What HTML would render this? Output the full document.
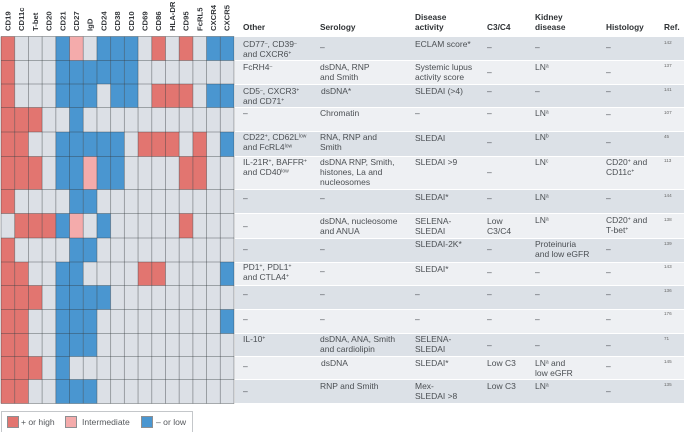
<!DOCTYPE html>
<html><head><meta charset="utf-8">
<style>
html,body{margin:0;padding:0;background:#fff}
#page{position:relative;width:685px;height:432px;overflow:hidden;font-family:"Liberation Sans",sans-serif;font-size:8.5px;color:#4b4f53}
.band{position:absolute;left:235px;width:449px}
.c{position:absolute;line-height:9.8px;white-space:nowrap}
.h{position:absolute;line-height:10px;font-weight:bold;color:#2f3235;font-size:8.3px;white-space:nowrap}
.r{position:absolute;left:664px;font-size:4.6px;line-height:6px;color:#666}
sup{font-size:5px;line-height:0;vertical-align:2.6px}
#legend{position:absolute;left:1px;top:411px;width:190px;height:20px;border:1px solid #c4c7ca;box-sizing:content-box}
.sw{position:absolute;top:4px;width:10px;height:10px;border:1px solid #8d8f92;box-sizing:content-box}
.lt{position:absolute;top:5px;line-height:10px;white-space:nowrap;font-size:8.6px;color:#55585c}
svg{position:absolute;left:0;top:0}
</style></head>
<body>
<div id="page">

<div class="band" style="top:37px;height:23px;background:#dce1e7"></div>
<div class="band" style="top:61px;height:23px;background:#eef0f3"></div>
<div class="band" style="top:85px;height:22px;background:#dce1e7"></div>
<div class="band" style="top:108px;height:23px;background:#eef0f3"></div>
<div class="band" style="top:132px;height:24px;background:#dce1e7"></div>
<div class="band" style="top:157px;height:32px;background:#eef0f3"></div>
<div class="band" style="top:190px;height:23px;background:#dce1e7"></div>
<div class="band" style="top:214px;height:24px;background:#eef0f3"></div>
<div class="band" style="top:239px;height:23px;background:#dce1e7"></div>
<div class="band" style="top:263px;height:22px;background:#eef0f3"></div>
<div class="band" style="top:286px;height:23px;background:#dce1e7"></div>
<div class="band" style="top:310px;height:23px;background:#eef0f3"></div>
<div class="band" style="top:334px;height:22px;background:#dce1e7"></div>
<div class="band" style="top:357px;height:22px;background:#eef0f3"></div>
<div class="band" style="top:380px;height:23px;background:#dce1e7"></div>

<div class="h" style="left:243px;top:22px">Other</div>
<div class="h" style="left:320px;top:22px">Serology</div>
<div class="h" style="left:415px;top:12px">Disease<br>activity</div>
<div class="h" style="left:487px;top:22px">C3/C4</div>
<div class="h" style="left:535px;top:12px">Kidney<br>disease</div>
<div class="h" style="left:606px;top:22px">Histology</div>
<div class="h" style="left:664px;top:22px">Ref.</div>

<!-- row 1 -->
<div class="c" style="left:243px;top:40px">CD77<sup>–</sup>, CD39<sup>–</sup><br>and CXCR6<sup>+</sup></div>
<div class="c" style="left:320px;top:43px">–</div>
<div class="c" style="left:415px;top:40px">ECLAM score*</div>
<div class="c" style="left:487px;top:43px">–</div>
<div class="c" style="left:535px;top:43px">–</div>
<div class="c" style="left:606px;top:43px">–</div>
<div class="r" style="top:40px">142</div>
<!-- row 2 -->
<div class="c" style="left:243px;top:63px">FcRH4<sup>–</sup></div>
<div class="c" style="left:320px;top:63px">dsDNA, RNP<br>and Smith</div>
<div class="c" style="left:415px;top:63px">Systemic lupus<br>activity score</div>
<div class="c" style="left:487px;top:68px">–</div>
<div class="c" style="left:535px;top:63px">LN<sup>a</sup></div>
<div class="c" style="left:606px;top:68px">–</div>
<div class="r" style="top:63px">137</div>
<!-- row 3 -->
<div class="c" style="left:243px;top:87px">CD5<sup>–</sup>, CXCR3<sup>+</sup><br>and CD71<sup>+</sup></div>
<div class="c" style="left:321px;top:87px">dsDNA*</div>
<div class="c" style="left:415px;top:87px">SLEDAI (&gt;4)</div>
<div class="c" style="left:487px;top:87px">–</div>
<div class="c" style="left:535px;top:87px">–</div>
<div class="c" style="left:606px;top:87px">–</div>
<div class="r" style="top:87px">141</div>
<!-- row 4 -->
<div class="c" style="left:243px;top:109px">–</div>
<div class="c" style="left:320px;top:109px">Chromatin</div>
<div class="c" style="left:415px;top:109px">–</div>
<div class="c" style="left:487px;top:109px">–</div>
<div class="c" style="left:535px;top:109px">LN<sup>a</sup></div>
<div class="c" style="left:606px;top:110px">–</div>
<div class="r" style="top:110px">107</div>
<!-- row 5 -->
<div class="c" style="left:243px;top:133px">CD22<sup>+</sup>, CD62L<sup>low</sup><br>and FcRL4<sup>low</sup></div>
<div class="c" style="left:320px;top:133px">RNA, RNP and<br>Smith</div>
<div class="c" style="left:415px;top:134px">SLEDAI</div>
<div class="c" style="left:487px;top:138px">–</div>
<div class="c" style="left:535px;top:133px">LN<sup>b</sup></div>
<div class="c" style="left:606px;top:138px">–</div>
<div class="r" style="top:134px">45</div>
<!-- row 6 -->
<div class="c" style="left:243px;top:158px">IL-21R<sup>+</sup>, BAFFR<sup>+</sup><br>and CD40<sup>low</sup></div>
<div class="c" style="left:320px;top:158px">dsDNA RNP, Smith,<br>histones, La and<br>nucleosomes</div>
<div class="c" style="left:415px;top:158px">SLEDAI &gt;9</div>
<div class="c" style="left:487px;top:168px">–</div>
<div class="c" style="left:535px;top:158px">LN<sup>c</sup></div>
<div class="c" style="left:606px;top:158px">CD20<sup>+</sup> and<br>CD11c<sup>+</sup></div>
<div class="r" style="top:158px">113</div>
<!-- row 7 -->
<div class="c" style="left:243px;top:194px">–</div>
<div class="c" style="left:320px;top:194px">–</div>
<div class="c" style="left:415px;top:193px">SLEDAI*</div>
<div class="c" style="left:487px;top:194px">–</div>
<div class="c" style="left:535px;top:193px">LN<sup>a</sup></div>
<div class="c" style="left:606px;top:194px">–</div>
<div class="r" style="top:193px">144</div>
<!-- row 8 -->
<div class="c" style="left:243px;top:222px">–</div>
<div class="c" style="left:320px;top:217px">dsDNA, nucleosome<br>and ANUA</div>
<div class="c" style="left:415px;top:217px">SELENA-<br>SLEDAI</div>
<div class="c" style="left:487px;top:217px">Low<br>C3/C4</div>
<div class="c" style="left:535px;top:216px">LN<sup>a</sup></div>
<div class="c" style="left:606px;top:216px">CD20<sup>+</sup> and<br>T-bet<sup>+</sup></div>
<div class="r" style="top:217px">138</div>
<!-- row 9 -->
<div class="c" style="left:243px;top:245px">–</div>
<div class="c" style="left:320px;top:245px">–</div>
<div class="c" style="left:415px;top:240px">SLEDAI-2K*</div>
<div class="c" style="left:487px;top:245px">–</div>
<div class="c" style="left:535px;top:240px">Proteinuria<br>and low eGFR</div>
<div class="c" style="left:606px;top:245px">–</div>
<div class="r" style="top:241px">139</div>
<!-- row 10 -->
<div class="c" style="left:243px;top:263px">PD1<sup>+</sup>, PDL1<sup>+</sup><br>and CTLA4<sup>+</sup></div>
<div class="c" style="left:320px;top:267px">–</div>
<div class="c" style="left:415px;top:265px">SLEDAI*</div>
<div class="c" style="left:487px;top:268px">–</div>
<div class="c" style="left:535px;top:268px">–</div>
<div class="c" style="left:606px;top:268px">–</div>
<div class="r" style="top:264px">143</div>
<!-- row 11 -->
<div class="c" style="left:243px;top:290px">–</div>
<div class="c" style="left:320px;top:290px">–</div>
<div class="c" style="left:415px;top:290px">–</div>
<div class="c" style="left:487px;top:290px">–</div>
<div class="c" style="left:535px;top:290px">–</div>
<div class="c" style="left:606px;top:290px">–</div>
<div class="r" style="top:288px">136</div>
<!-- row 12 -->
<div class="c" style="left:243px;top:315px">–</div>
<div class="c" style="left:320px;top:315px">–</div>
<div class="c" style="left:415px;top:315px">–</div>
<div class="c" style="left:487px;top:315px">–</div>
<div class="c" style="left:535px;top:315px">–</div>
<div class="c" style="left:606px;top:315px">–</div>
<div class="r" style="top:311px">176</div>
<!-- row 13 -->
<div class="c" style="left:243px;top:335px">IL-10<sup>+</sup></div>
<div class="c" style="left:320px;top:335px">dsDNA, ANA, Smith<br>and cardiolipin</div>
<div class="c" style="left:415px;top:335px">SELENA-<br>SLEDAI</div>
<div class="c" style="left:487px;top:341px">–</div>
<div class="c" style="left:535px;top:341px">–</div>
<div class="c" style="left:606px;top:341px">–</div>
<div class="r" style="top:336px">71</div>
<!-- row 14 -->
<div class="c" style="left:243px;top:362px">–</div>
<div class="c" style="left:321px;top:359px">dsDNA</div>
<div class="c" style="left:415px;top:359px">SLEDAI*</div>
<div class="c" style="left:487px;top:359px">Low C3</div>
<div class="c" style="left:535px;top:359px">LN<sup>a</sup> and<br>low eGFR</div>
<div class="c" style="left:606px;top:362px">–</div>
<div class="r" style="top:359px">145</div>
<!-- row 15 -->
<div class="c" style="left:243px;top:387px">–</div>
<div class="c" style="left:320px;top:382px">RNP and Smith</div>
<div class="c" style="left:415px;top:382px">Mex-<br>SLEDAI &gt;8</div>
<div class="c" style="left:487px;top:382px">Low C3</div>
<div class="c" style="left:535px;top:382px">LN<sup>a</sup></div>
<div class="c" style="left:606px;top:387px">–</div>
<div class="r" style="top:382px">135</div>

<svg id="heatmap" width="236" height="410" viewBox="0 0 236 410"></svg>

<div id="legend">
  <div class="sw" style="left:5px;background:#e27570"></div>
  <div class="lt" style="left:19px">+ or high</div>
  <div class="sw" style="left:63px;background:#f4abab"></div>
  <div class="lt" style="left:80px">Intermediate</div>
  <div class="sw" style="left:139px;background:#4a96d0"></div>
  <div class="lt" style="left:154px">– or low</div>
</div>
</div>

<script>
const markers = ["CD19","CD11c","T-bet","CD20","CD21","CD27","IgD","CD24","CD38","CD10","CD69","CD86","HLA-DR","CD95","FcRL5","CXCR4","CXCR5"];
const row1  = [1,0,0,0,-1,0.5,0,-1,-1,-1,0,1,0,1,0,-1,-1];
const row2  = [1,0,0,0,-1,-1,-1,-1,-1,-1,0,0,0,0,0,0,0];
const row3  = [1,0,0,0,-1,-1,-1,0,-1,-1,0,1,1,1,0,-1,-1];
const row4  = [1,1,1,0,0,-1,0,0,0,0,0,0,0,0,0,0,0];
const row5  = [1,1,0,0,-1,-1,-1,-1,-1,0,1,1,1,0,1,0,-1];
const row6  = [1,1,1,0,-1,-1,0.5,-1,-1,0,0,0,0,1,1,0,0];
const row7  = [1,0,0,0,0,-1,-1,0,0,0,0,0,0,0,0,0,0];
const row8  = [0,1,1,1,-1,0.5,0,-1,0,0,0,0,0,1,0,0,0];
const row9  = [1,0,0,0,0,-1,-1,0,0,0,0,0,0,0,0,0,0];
const row10 = [1,1,0,0,-1,-1,0,0,0,0,1,1,0,0,0,0,-1];
const row11 = [1,1,1,0,-1,-1,-1,-1,0,0,0,0,0,0,0,0,0];
const row12 = [1,1,0,0,-1,-1,-1,0,0,0,0,0,0,0,0,0,-1];
const row13 = [1,1,0,0,-1,-1,-1,0,0,0,0,0,0,0,0,0,0];
const row14 = [1,1,1,0,-1,0,0,0,0,0,0,0,0,0,0,0,0];
const row15 = [1,1,0,0,-1,-1,-1,0,0,0,0,0,0,0,0,0,0];
const matrix = [row1,row2,row3,row4,row5,row6,row7,row8,row9,row10,row11,row12,row13,row14,row15];

function colorScale(v){
  if (v === 1) return "#e27570";
  if (v === 0.5) return "#f4abab";
  if (v === -1) return "#4a96d0";
  return "#dce0e6";
}
(function(){
  const NS = "http://www.w3.org/2000/svg";
  const svg = document.getElementById("heatmap");
  const left = 1, right = 234;
  const colW = (right - left) / markers.length;
  const edges = [36.5,60.5,84,107.5,132,156.5,189.5,213.5,238,262,285.5,309.5,333.5,356.5,379.5,403.5];
  const xScale = function(i){ return left + i * colW; };
  const yEdge = function(i){ return edges[Math.min(i, edges.length - 1)]; };

  matrix.forEach(function(vals, r){
    vals.forEach(function(v, c){
      const rect = document.createElementNS(NS, "rect");
      rect.setAttribute("x", xScale(c));
      rect.setAttribute("y", yEdge(r));
      rect.setAttribute("width", colW);
      rect.setAttribute("height", yEdge(r + 1) - yEdge(r));
      rect.setAttribute("fill", colorScale(v));
      
      
      svg.appendChild(rect);
    });
  });
  for (let c = 0; c <= markers.length; c++){
    const l = document.createElementNS(NS, "line");
    l.setAttribute("x1", xScale(c)); l.setAttribute("x2", xScale(c));
    l.setAttribute("y1", yEdge(0)); l.setAttribute("y2", yEdge(matrix.length));
    l.setAttribute("stroke", "rgba(50,55,60,.5)");
    l.setAttribute("stroke-width", "0.8");
    
    
    svg.appendChild(l);
  }
  for (let r = 0; r <= matrix.length; r++){
    const l = document.createElementNS(NS, "line");
    l.setAttribute("x1", left); l.setAttribute("x2", right);
    l.setAttribute("y1", yEdge(r)); l.setAttribute("y2", yEdge(r));
    l.setAttribute("stroke", "rgba(50,55,60,.5)");
    l.setAttribute("stroke-width", "0.8");
    
    
    svg.appendChild(l);
  }
  markers.forEach(function(m, c){
    const t = document.createElementNS(NS, "text");
    const x = xScale(c) + colW / 2 + 2.6;
    t.setAttribute("transform", "translate(" + x + ",31) rotate(-90)");
    t.setAttribute("font-family", '"Liberation Sans", sans-serif');
    t.setAttribute("font-size", "7.7");
    t.setAttribute("font-weight", "bold");
    t.setAttribute("fill", "#33363a");
    t.textContent = m;
    
    
    svg.appendChild(t);
  });
})();
</script>
</body></html>
